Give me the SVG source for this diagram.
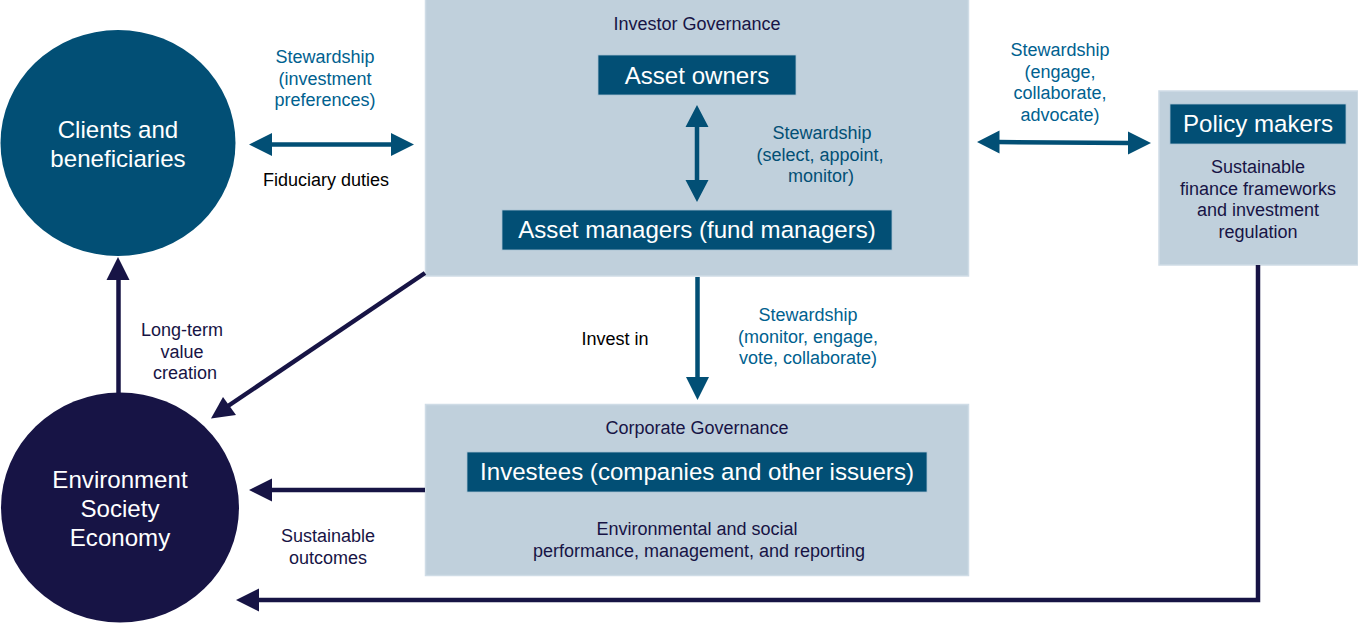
<svg xmlns="http://www.w3.org/2000/svg" width="1358" height="624" viewBox="0 0 1358 624">
<style>
text{font-family:"Liberation Sans",Arial,sans-serif;text-anchor:middle}
.s{font-size:18px}
.b{font-size:24.100px;fill:#fff}
.teal{fill:#00618f}
.dteal{fill:#024f75}
.navy{fill:#171445}
.blk{fill:#000}
.panel{fill:#c0d0dc;stroke:#cfdce6;stroke-width:1.5}
.hdr{fill:#024f75;stroke:#a9c1d2;stroke-width:.8}
.cl{fill:none;stroke:#024f75;stroke-width:4.500}
.cn{fill:none;stroke:#171445;stroke-width:4.500}
.ht{fill:#024f75}
.hn{fill:#171445}
</style>
<g id="clients"><ellipse cx="118" cy="143" rx="117.500" ry="113" fill="#024f75"/>
<text class="b" x="118" y="138">Clients and</text><text class="b" x="118" y="167">beneficiaries</text></g>
<g id="environment"><ellipse cx="120" cy="507.500" rx="119" ry="115" fill="#171445"/>
<text class="b" x="120" y="488">Environment</text><text class="b" x="120" y="517">Society</text><text class="b" x="120" y="546">Economy</text></g>
<g id="investor-governance"><rect class="panel" x="425.500" y="-1" width="543" height="277"/>
<text class="s navy" x="697" y="30">Investor Governance</text></g>
<g id="asset-owners"><rect class="hdr" x="598" y="55" width="198" height="40"/>
<text class="b" x="697" y="84">Asset owners</text></g>
<g id="asset-managers"><rect class="hdr" x="502" y="210" width="390" height="40"/>
<text class="b" x="697" y="238">Asset managers (fund managers)</text></g>
<g id="corporate-governance"><rect class="panel" x="425.500" y="404.500" width="543" height="171"/>
<text class="s navy" x="697" y="434">Corporate Governance</text>
<text class="s navy" x="697" y="535">Environmental and social</text>
<text class="s navy" x="699" y="557">performance, management, and reporting</text></g>
<g id="investees"><rect class="hdr" x="467" y="452" width="460" height="40"/>
<text class="b" x="697" y="480">Investees (companies and other issuers)</text></g>
<g id="policy-makers"><rect class="panel" x="1159" y="91" width="199" height="174"/>
<rect class="hdr" x="1170" y="104" width="176" height="40"/>
<text class="b" x="1258" y="132">Policy makers</text>
<text class="s navy" x="1258" y="173">Sustainable</text>
<text class="s navy" x="1258" y="195">finance frameworks</text>
<text class="s navy" x="1258" y="216">and investment</text>
<text class="s navy" x="1258" y="238">regulation</text></g>
<g id="connectors">
<path class="cl" d="M270 144.500H392"/><path class="ht" d="M249 144.500L272 133V156ZM414 144.500L391 133V156Z"/>
<path class="cl" d="M697 125V182"/><path class="ht" d="M697 105L708.500 127H685.500ZM697 202L708.500 180H685.500Z"/>
<path class="cl" d="M998 142L1130 143"/><path class="ht" d="M977 142L999.500 130.500V153.500ZM1151 143L1128 131.500V154.500Z"/>
<path class="cl" d="M697.500 277V378"/><path class="ht" d="M697.500 400L686 377H709Z"/>
<path class="cn" d="M118.500 394V278"/><path class="hn" d="M118 257L129.500 280H106.500Z"/>
<path class="cn" d="M425 273L228 406"/><path class="hn" d="M211 418.500L223 397L236 415Z"/>
<path class="cn" d="M425 490H270"/><path class="hn" d="M249 490L272 478.500V501.500Z"/>
<path class="cn" d="M1258 265V600H258"/><path class="hn" d="M236 600L259 588.500V611.500Z"/>
</g>
<g id="labels">
<text class="s teal" x="325" y="63">Stewardship</text><text class="s teal" x="325" y="85">(investment</text><text class="s teal" x="325" y="106">preferences)</text>
<text class="s blk" x="326" y="186">Fiduciary duties</text>
<text class="s teal" x="1060" y="56">Stewardship</text><text class="s teal" x="1060" y="78">(engage,</text><text class="s teal" x="1060" y="99">collaborate,</text><text class="s teal" x="1060" y="121">advocate)</text>
<text class="s dteal" x="822" y="139">Stewardship</text><text class="s dteal" x="820" y="161">(select, appoint,</text><text class="s dteal" x="821" y="182">monitor)</text>
<text class="s teal" x="808" y="321">Stewardship</text><text class="s teal" x="808" y="343">(monitor, engage,</text><text class="s teal" x="808" y="364">vote, collaborate)</text>
<text class="s blk" x="615" y="345">Invest in</text>
<text class="s navy" x="182" y="336">Long-term</text><text class="s navy" x="182" y="358">value</text><text class="s navy" x="185" y="379">creation</text>
<text class="s navy" x="328" y="542">Sustainable</text><text class="s navy" x="328" y="564">outcomes</text>
</g>
</svg>
